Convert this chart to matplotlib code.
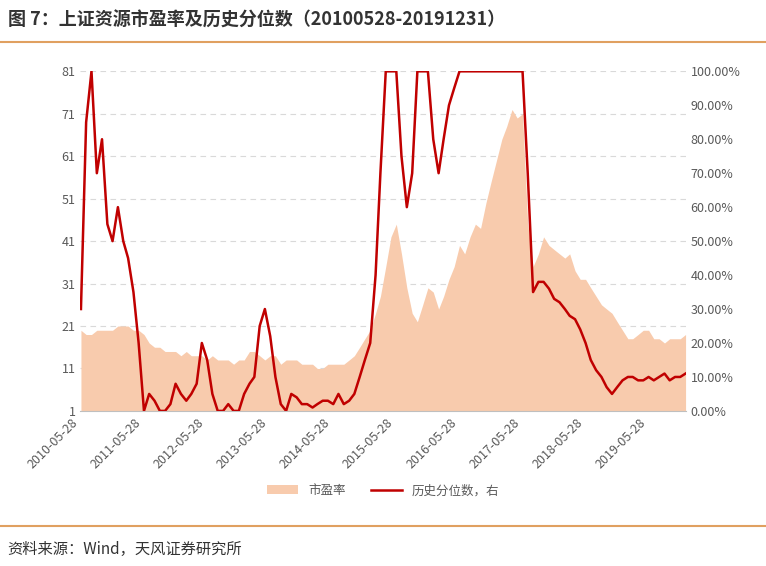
import matplotlib
matplotlib.use("Agg")
import matplotlib.pyplot as plt
import pandas as pd
import numpy as np

plt.rcParams['font.family'] = ['Noto Sans CJK SC', 'DejaVu Sans']

dates = pd.date_range("2010-05-28", "2019-12-31", freq="ME")
pe = [20,19,19,20,20,20,20,21,
      21,21,20,20,19,17,16,16,15,15,15,14,
      15,14,14,14,13,14,13,13,13,12,13,13,
      15,15,14,13,14,14,12,13,13,13,12,12,
      12,11,11,12,12,12,12,13,14,16,18,20,
      24,28,35,42,45,38,30,24,22,26,30,29,
      25,28,32,35,40,38,42,45,44,50,55,60,
      65,68,72,70,71,45,35,38,42,40,39,38,
      37,38,34,32,32,30,28,26,25,24,22,20,
      18,18,19,20,20,18,18,17,18,18,18,19]
pct = [30,85,100,70,80,55,50,60,
       50,45,35,20,0,5,3,0,0,2,8,5,
       3,5,8,20,15,5,0,0,2,0,0,5,
       8,10,25,30,22,10,2,0,5,4,2,2,
       1,2,3,3,2,5,2,3,5,10,15,20,
       40,70,100,100,100,75,60,70,100,100,100,80,
       70,80,90,95,100,100,100,100,100,100,100,100,
       100,100,100,100,100,70,35,38,38,36,33,32,
       30,28,27,24,20,15,12,10,7,5,7,9,
       10,10,9,9,10,9,10,11,9,10,10,11]
pe = np.array(pe); pct = np.array(pct) / 100

fig = plt.figure(figsize=(7.66, 5.66), dpi=100)
ax = fig.add_axes([0.105, 0.274, 0.79, 0.60])
ax.fill_between(dates, 1, pe, color="#F8CBAD", lw=0, label="市盈率")
ax.set_ylim(1, 81)
ax.set_yticks(range(1, 82, 10))
ax2 = ax.twinx()
l, = ax2.plot(dates, np.clip(pct, 0, 1), color="#C00000", lw=1.8, label="历史分位数，右")
ax2.set_ylim(0, 1)
ax2.set_yticks(np.arange(0, 1.01, 0.1))
ax2.yaxis.set_major_formatter(plt.FuncFormatter(lambda v, _: f"{v*100:.2f}%"))
ticks = [pd.Timestamp(f"{y}-05-28") for y in range(2010, 2020)]
ax.set_xticks(ticks)
ax.set_xticklabels([d.strftime("%Y-%m-%d") for d in ticks], rotation=45, ha="right", fontsize=8, color="#595959")
ax.set_xlim(pd.Timestamp("2010-05-28"), pd.Timestamp("2019-12-31"))
for a in (ax, ax2):
    for s in a.spines.values():
        s.set_visible(False)
    a.tick_params(length=0, labelsize=9, colors="#595959")
ax.spines['bottom'].set_visible(True); ax.spines['bottom'].set_color("#BFBFBF")
ax.grid(axis='y', color="#D9D9D9", ls=(0, (5, 4)), lw=0.8)
ax.set_axisbelow(True)
fig.legend(handles=[ax.collections[0], l], loc="center", bbox_to_anchor=(0.5, 0.133), ncol=2,
           frameon=False, fontsize=9, labelcolor="#595959", handlelength=2.5)
fig.text(0.01, 0.965, "图 7：上证资源市盈率及历史分位数（20100528-20191231）", fontsize=13,
         weight="bold", color="#333333", va="center")
fig.add_artist(plt.Line2D([0, 1], [0.925, 0.925], color="#E0A060", lw=1.5))
fig.add_artist(plt.Line2D([0, 1], [0.07, 0.07], color="#E0A060", lw=1.5))
fig.text(0.01, 0.03, "资料来源：Wind，天风证券研究所", fontsize=11, color="#333333", va="center")
fig.savefig("out.png")
